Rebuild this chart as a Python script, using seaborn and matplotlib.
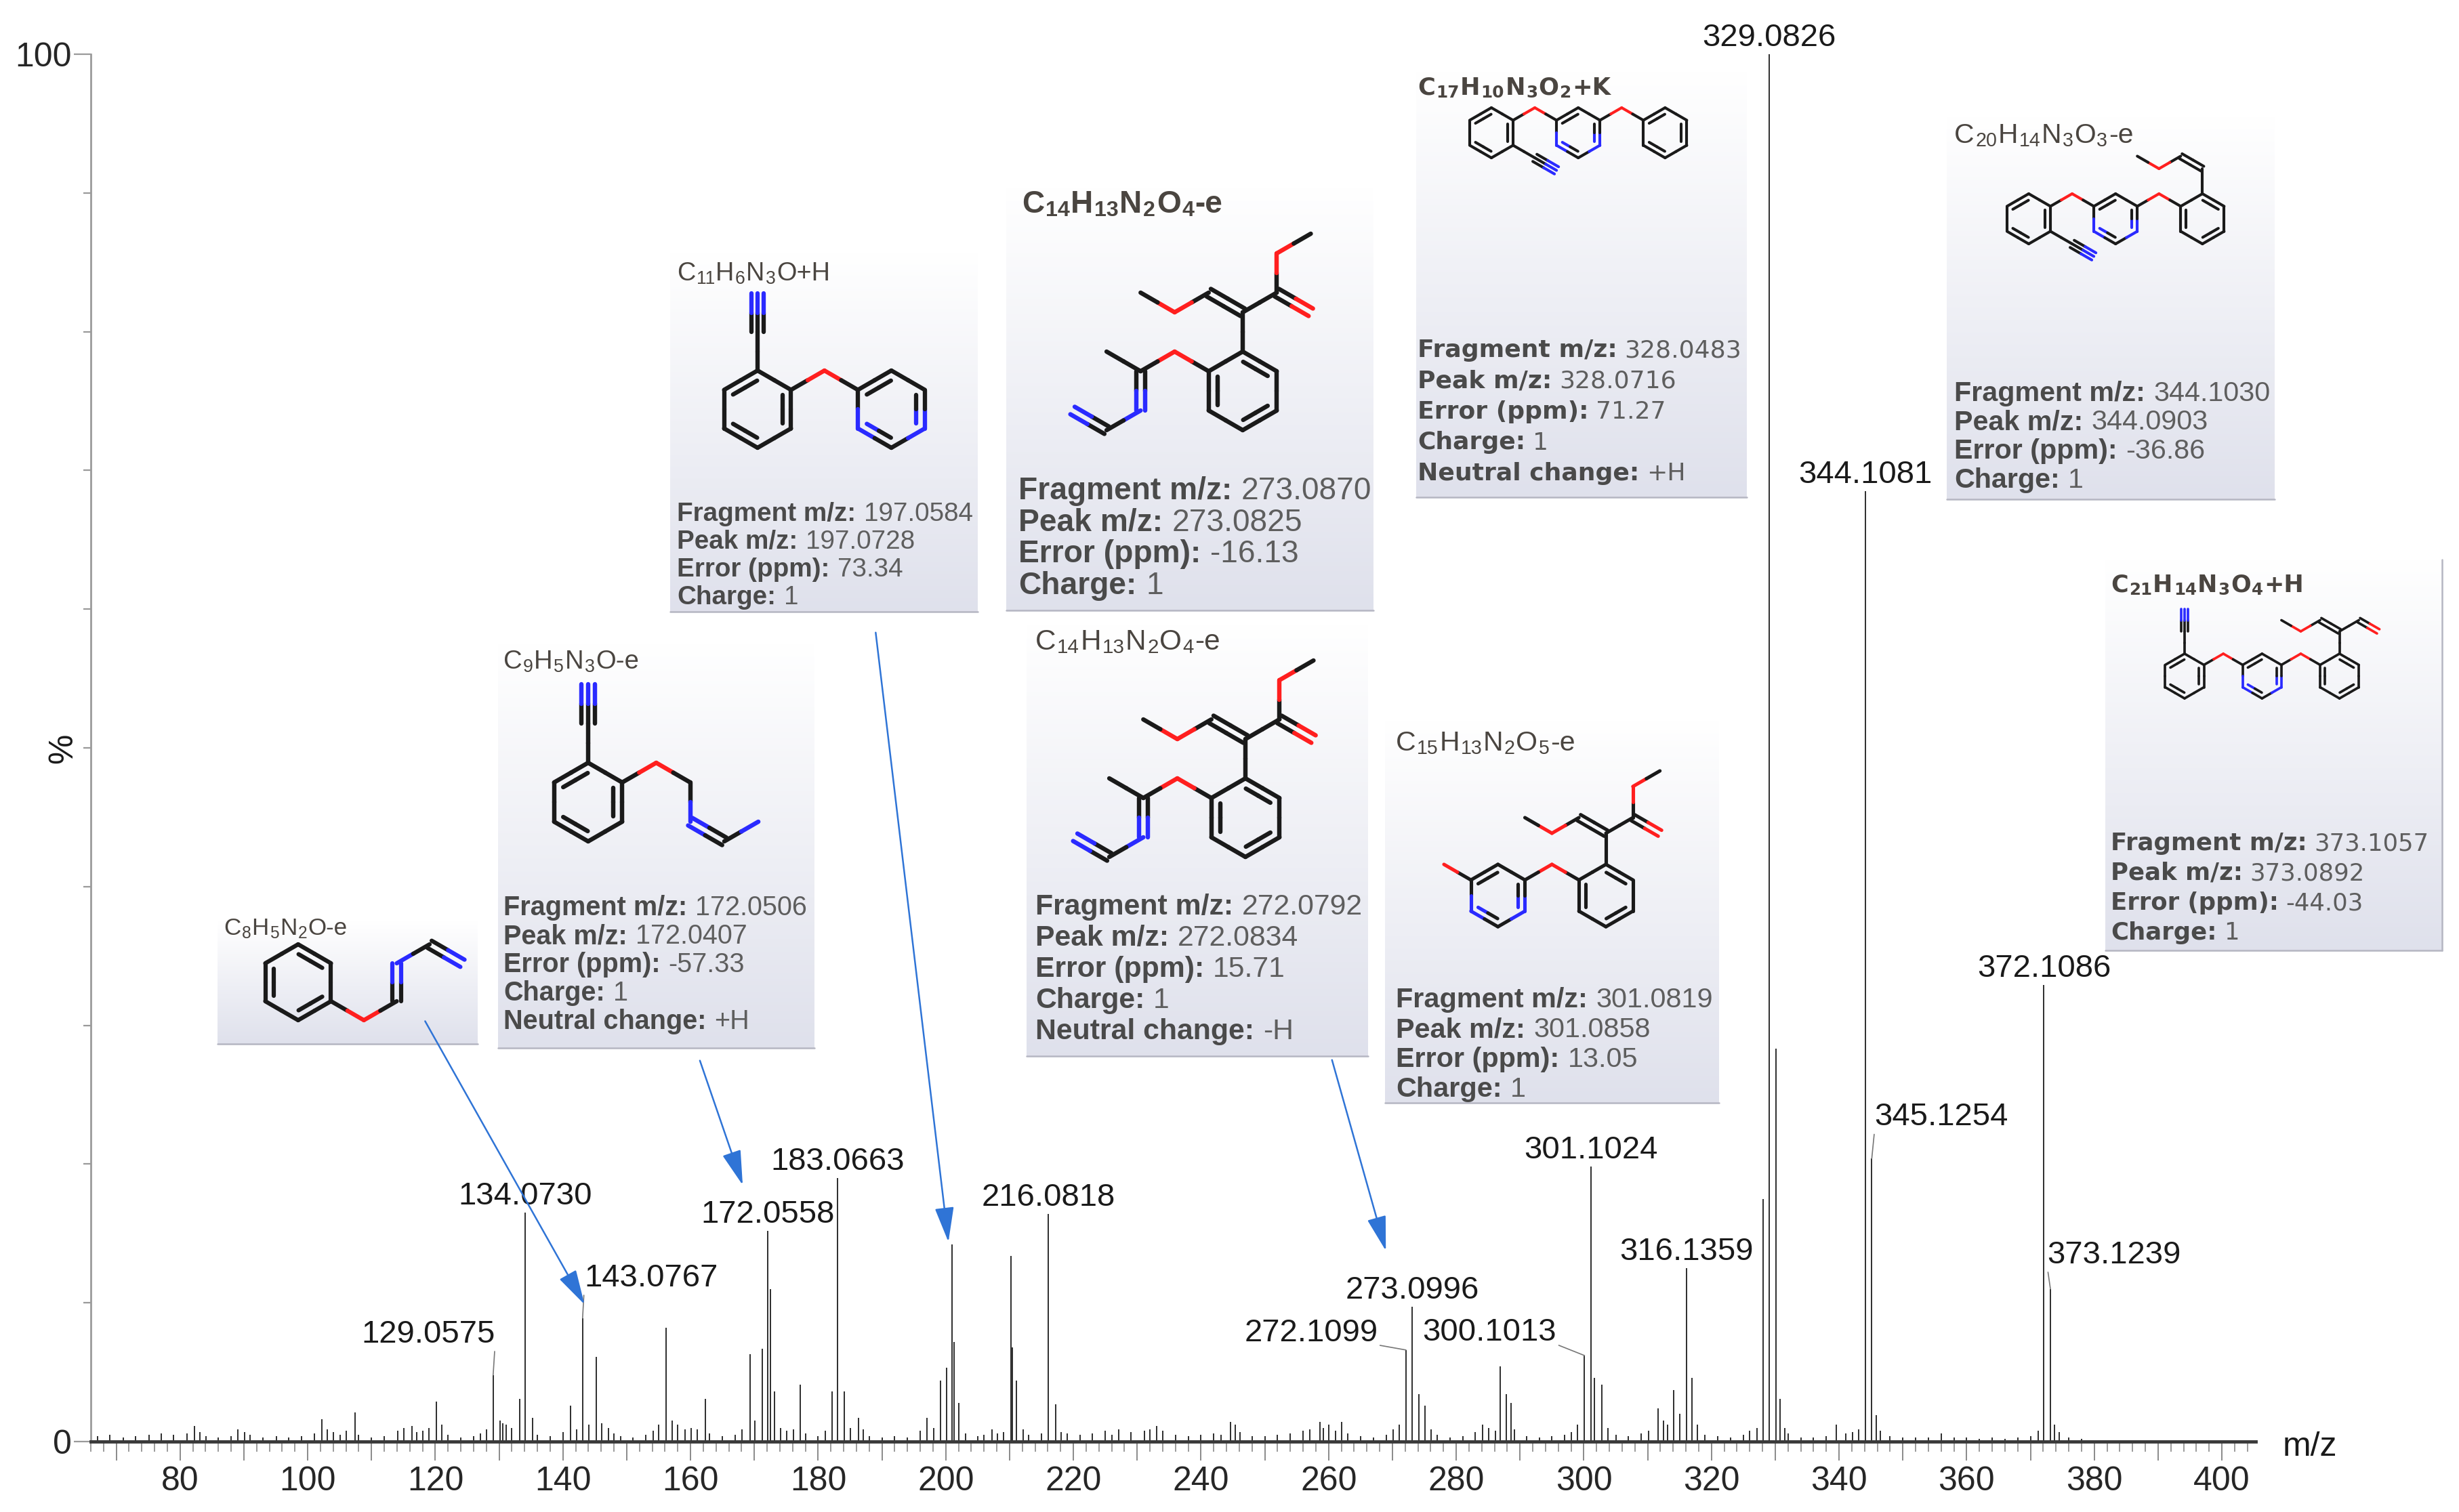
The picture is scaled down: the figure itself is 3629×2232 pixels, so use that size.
import re
import numpy as np
import matplotlib
matplotlib.use("Agg")
import matplotlib.pyplot as plt
from matplotlib import font_manager
from matplotlib.patches import FancyArrowPatch
from matplotlib.ticker import MultipleLocator, FuncFormatter
import seaborn as sns

# labelled peaks (m/z, relative intensity %)
peak_mz = [129.0575, 134.0730, 143.0767, 172.0558, 183.0663, 216.0818, 272.1099, 273.0996,
           300.1013, 301.1024, 316.1359, 329.0826, 344.1081, 345.1254, 372.1086, 373.1239]
peak_int = [4.8, 16.5, 8.9, 15.2, 19.0, 16.4, 6.6, 9.7,
            6.2, 19.8, 12.5, 100.0, 68.5, 20.4, 32.9, 11.0]

# unlabelled peaks and baseline noise
other_mz = [67.1, 69.0, 71.1, 73.0, 75.1, 77.0, 79.0, 81.1, 82.3, 83.1, 84.1, 86.0, 88.0, 89.0,
            90.1, 91.0, 93.0, 95.1, 97.0, 99.0, 101.0, 102.2, 103.1, 104.0, 105.1, 106.0, 107.4,
            108.0, 110.0, 112.0, 114.1, 115.1, 116.3, 117.1, 118.0, 119.0, 120.2, 121.0, 122.0,
            124.0, 126.0, 127.1, 128.0, 130.1, 130.6, 131.1, 132.0, 133.2, 135.2, 136.0, 138.0,
            140.0, 141.2, 142.1, 144.1, 145.2, 146.1, 147.1, 148.0, 149.0, 151.0, 153.0, 154.1,
            155.0, 156.2, 157.1, 158.0, 159.1, 160.1, 161.0, 162.3, 163.0, 165.0, 167.0, 168.1,
            169.3, 170.1, 171.2, 172.5, 173.1, 174.1, 175.1, 176.1, 177.2, 178.0, 180.0, 181.1,
            182.2, 184.1, 185.1, 186.3, 187.1, 188.0, 190.0, 192.0, 194.0, 196.0, 197.1, 198.1,
            199.2, 200.1, 201.0, 201.3, 202.0, 203.1, 205.0, 206.0, 207.2, 208.1, 209.1, 210.2,
            210.4, 211.1, 212.1, 213.0, 215.0, 217.2, 218.1, 219.0, 221.0, 223.0, 225.0, 226.0,
            227.1, 229.0, 231.1, 232.0, 233.1, 234.0, 236.0, 238.0, 240.0, 242.0, 243.1, 244.6,
            245.4, 246.1, 248.0, 250.0, 252.0, 254.0, 256.0, 257.1, 258.6, 259.2, 260.0, 261.1,
            262.0, 263.0, 265.0, 267.0, 269.0, 270.1, 271.1, 274.1, 275.1, 276.1, 277.0, 279.0,
            281.0, 283.0, 284.1, 285.1, 286.1, 286.9, 287.8, 288.6, 289.1, 291.0, 293.0, 295.0,
            297.0, 298.0, 299.0, 301.7, 302.8, 303.8, 305.0, 307.0, 309.0, 310.1, 311.6, 312.5,
            313.1, 314.1, 315.0, 316.9, 317.8, 319.0, 321.0, 323.0, 325.0, 326.0, 327.1, 328.07,
            330.08, 330.8, 331.5, 332.0, 334.0, 336.0, 338.0, 339.6, 341.0, 342.1, 343.1, 345.8,
            346.5, 348.0, 350.0, 352.0, 354.0, 356.0, 358.0, 360.0, 362.0, 364.0, 366.0, 368.0,
            370.0, 371.2, 373.8, 374.5, 376.0, 378.0]
other_int = [0.4, 0.5, 0.3, 0.4, 0.5, 0.6, 0.5, 0.6, 1.1, 0.7, 0.4, 0.3, 0.4, 0.9,
             0.7, 0.5, 0.3, 0.4, 0.3, 0.4, 0.6, 1.6, 0.9, 0.7, 0.5, 0.8, 2.1,
             0.5, 0.3, 0.4, 0.8, 1.0, 1.1, 0.7, 0.8, 1.0, 2.9, 1.2, 0.5,
             0.3, 0.4, 0.6, 0.9, 1.5, 1.3, 1.2, 1.0, 3.1, 1.7, 0.5, 0.4,
             0.7, 2.6, 0.9, 1.2, 6.1, 1.3, 1.0, 0.6, 0.4, 0.3, 0.5, 0.8,
             1.2, 8.2, 1.5, 1.2, 0.9, 1.0, 0.9, 3.1, 0.6, 0.4, 0.5, 0.9,
             6.3, 1.5, 6.7, 11.0, 3.6, 1.0, 0.8, 0.9, 4.1, 0.6, 0.4, 0.8,
             3.6, 3.6, 1.0, 1.7, 0.9, 0.4, 0.3, 0.4, 0.3, 0.8, 1.7, 1.0,
             4.4, 5.3, 14.2, 7.2, 2.8, 0.6, 0.4, 0.5, 0.9, 0.6, 0.7, 13.4,
             6.8, 4.4, 0.9, 0.5, 0.6, 2.7, 0.7, 0.6, 0.5, 0.6, 0.8, 0.5,
             0.9, 0.7, 0.8, 0.9, 1.1, 0.8, 0.5, 0.4, 0.5, 0.6, 0.5, 1.4,
             1.2, 0.7, 0.4, 0.4, 0.5, 0.6, 0.8, 0.9, 1.4, 1.0, 1.2, 0.8,
             1.4, 0.6, 0.4, 0.3, 0.5, 0.9, 1.2, 3.4, 2.6, 0.9, 0.5, 0.3,
             0.4, 0.7, 1.2, 1.0, 0.8, 5.4, 3.4, 2.8, 0.9, 0.4, 0.3, 0.4,
             0.5, 0.7, 1.2, 4.6, 4.1, 1.0, 0.5, 0.4, 0.6, 0.8, 2.4, 1.5,
             1.2, 3.7, 2.0, 4.6, 1.2, 0.5, 0.4, 0.3, 0.5, 0.8, 1.0, 17.5,
             28.3, 3.1, 1.0, 0.6, 0.3, 0.3, 0.4, 1.2, 0.6, 0.7, 0.9, 1.9,
             0.8, 0.4, 0.3, 0.3, 0.3, 0.6, 0.3, 0.3, 0.2, 0.3, 0.2, 0.3,
             0.4, 0.8, 1.2, 0.7, 0.3, 0.2]

# fragment annotation panels
formulas = ["C8H5N2O-e", "C9H5N3O-e", "C11H6N3O+H", "C14H13N2O4-e", "C14H13N2O4-e",
            "C15H13N2O5-e", "C17H10N3O2+K", "C20H14N3O3-e", "C21H14N3O4+H"]
frag_mz = [None, "172.0506", "197.0584", "273.0870", "272.0792", "301.0819", "328.0483", "344.1030", "373.1057"]
peak_found = [None, "172.0407", "197.0728", "273.0825", "272.0834", "301.0858", "328.0716", "344.0903", "373.0892"]
err_ppm = [None, "-57.33", "73.34", "-16.13", "15.71", "13.05", "71.27", "-36.86", "-44.03"]
charge = [None, "1", "1", "1", "1", "1", "1", "1", "1"]
neutral = [None, "+H", None, None, "-H", None, "+H", None, None]

W, H = 3630, 2232

sns.set_theme(style="ticks")
avail = {f.name for f in font_manager.fontManager.ttflist}
NARROW = "Liberation Sans Narrow" if "Liberation Sans Narrow" in avail else "Liberation Sans"
plt.rcParams["font.family"] = ["Liberation Sans", "DejaVu Sans"]

fig = plt.figure(figsize=(W / 100, H / 100), dpi=100)
ax = fig.add_axes([134 / W, 1 - 2128 / H, (3329 - 134) / W, (2128 - 80) / H])

ax.vlines(other_mz, 0, other_int, color="#1c1c1c", lw=1.3)
ax.vlines(peak_mz, 0, peak_int, color="#1c1c1c", lw=1.3)

ax.set_xlim(66, 405.3)
ax.set_ylim(0, 100)
sns.despine(ax=ax)
ax.spines["left"].set_color("#9a9a9a")
ax.spines["left"].set_linewidth(2)
ax.spines["bottom"].set_color("#3a3a3a")
ax.spines["bottom"].set_linewidth(3.5)

ax.xaxis.set_major_locator(MultipleLocator(10))
ax.xaxis.set_minor_locator(MultipleLocator(2))
ax.xaxis.set_major_formatter(FuncFormatter(lambda v, p: f"{int(round(v))}" if int(round(v)) % 20 == 0 else ""))
ax.set_yticks([0, 100])
ax.set_yticklabels(["0", "100"])
ax.yaxis.set_minor_locator(MultipleLocator(10))
ax.tick_params(axis="x", which="major", length=20, width=1.4, color="#8a8a8a", labelsize=36, pad=6, bottom=True)
ax.tick_params(axis="x", which="minor", length=11, width=1.2, color="#8a8a8a", bottom=True)
ax.tick_params(axis="y", which="major", length=18, width=1.6, color="#9a9a9a", labelsize=36, pad=2, left=True)
ax.tick_params(axis="y", which="minor", length=8, width=1.6, color="#9a9a9a", left=True)
ax.grid(False)

# label offsets (pixels) for labels that sit beside their peak with a leader
leader = {129.0575: (-96, 60), 143.0767: (101, 59), 272.1099: (-140, 25),
          300.1013: (-140, 34), 345.1254: (103, 61), 373.1239: (94, 50)}

for mz, inten in zip(peak_mz, peak_int):
    txt = f"{mz:.4f}"
    if mz in leader:
        dx, dy = leader[mz]
        ax.annotate(txt, (mz, inten), xytext=(dx, dy), textcoords="offset pixels",
                    ha="center", va="center", fontsize=34, color="#1a1a1a", annotation_clip=False,
                    arrowprops=dict(arrowstyle="-", color="#777777", lw=1.2, shrinkA=0, shrinkB=0,
                                    relpos=(1, 0.1) if dx < 0 else (0, 0.1)))
    else:
        ax.annotate(txt, (mz, inten), xytext=(0, 12), textcoords="offset pixels",
                    ha="center", va="baseline", fontsize=34, color="#1a1a1a", annotation_clip=False)

# overlay in picture pixels (origin top-left) for panels, structures and arrows
ov = fig.add_axes([0, 0, 1, 1])
ov.patch.set_alpha(0)
ov.axis("off")
R = fig.canvas.get_renderer()

ATOM = {"C": "#1a1a1a", "O": "#ff1f1f", "N": "#2a2aff"}


def dirv(a):
    r = np.radians(a)
    return np.cos(r), -np.sin(r)


class Mol:
    def __init__(self, x, y, L):
        self.xy = [(x, y)]
        self.el = ["C"]
        self.bonds = []
        self.L = L

    def add(self, i, ang, el="C", order=1):
        dx, dy = dirv(ang)
        x, y = self.xy[i]
        self.xy.append((x + self.L * dx, y + self.L * dy))
        self.el.append(el)
        j = len(self.xy) - 1
        self.bonds.append((i, j, order, None))
        return j

    def ring(self, i, cdir, els="CCCCCC", dbl=()):
        x, y = self.xy[i]
        dx, dy = dirv(cdir)
        cx, cy = x + self.L * dx, y + self.L * dy
        idx = [i]
        for k in range(1, 6):
            ex, ey = dirv(cdir + 180 + 60 * k)
            self.xy.append((cx + self.L * ex, cy + self.L * ey))
            self.el.append(els[k])
            idx.append(len(self.xy) - 1)
        for k in range(6):
            self.bonds.append((idx[k], idx[(k + 1) % 6], 2 if k in dbl else 1, (cx, cy)))
        return idx


def from_center(cx, cy, L, ang):
    dx, dy = dirv(ang)
    return cx + L * dx, cy + L * dy


def half(p, q, ca, cb, lw):
    m = (p + q) / 2
    ov.plot([p[0], m[0]], [p[1], m[1]], color=ca, lw=lw, solid_capstyle="round", zorder=3)
    ov.plot([m[0], q[0]], [m[1], q[1]], color=cb, lw=lw, solid_capstyle="round", zorder=3)


def draw_mol(m):
    lw = 0.08 * m.L
    d = 0.22 * m.L
    for a, b, order, cen in m.bonds:
        p = np.array(m.xy[a])
        q = np.array(m.xy[b])
        ca, cb = ATOM[m.el[a]], ATOM[m.el[b]]
        v = q - p
        n = np.array([-v[1], v[0]]) / np.hypot(*v)
        if order == 1:
            half(p, q, ca, cb, lw)
        elif order == 2 and cen is not None:
            half(p, q, ca, cb, lw)
            if np.dot(np.array(cen) - (p + q) / 2, n) < 0:
                n = -n
            half(p + n * d + v * 0.14, q + n * d - v * 0.14, ca, cb, lw)
        elif order == 2:
            half(p + n * d / 2, q + n * d / 2, ca, cb, lw)
            half(p - n * d / 2, q - n * d / 2, ca, cb, lw)
        else:
            for s in (-0.75, 0, 0.75):
                half(p + n * d * s, q + n * d * s, ca, cb, lw)


def ester_chain(m, top):
    ca = m.add(top, 90)
    cb = m.add(ca, 150, "C", 2)
    o1 = m.add(cb, 210, "O")
    m.add(o1, 150)
    cc = m.add(ca, 30)
    m.add(cc, -30, "O", 2)
    o3 = m.add(cc, 90, "O")
    m.add(o3, 30)


def mol_imine(cx, cy, L):
    m = Mol(*from_center(cx, cy, L, 90), L)
    r = m.ring(0, -90, dbl={5, 1, 3})
    ester_chain(m, r[0])
    o = m.add(r[1], 150, "O")
    c = m.add(o, 210)
    m.add(c, 150)
    n = m.add(c, 270, "N", 2)
    c2 = m.add(n, 210)
    m.add(c2, 150, "N", 2)
    return m


def mol_tri(cx, cy, L, nitrile, tail):
    # nitrile-phenyl - O - pyrimidine - O - phenyl
    m = Mol(*from_center(cx, cy, L, 30), L)
    r1 = m.ring(0, 210, dbl={1, 3, 5})
    if nitrile == "low":
        c = m.add(r1[5], -30)
        m.add(c, -30, "N", 3)
    else:
        c = m.add(r1[1], 90)
        m.add(c, 90, "N", 3)
    o = m.add(r1[0], 30, "O")
    a = m.add(o, -30)
    r2 = m.ring(a, -30, els="CNCNCC", dbl={5, 1, 3})
    o2 = m.add(r2[4], 30, "O")
    b = m.add(o2, -30)
    if tail is None:
        m.ring(b, -30, dbl={5, 1, 3})
        return m
    r3 = m.ring(b, -30, dbl={0, 2, 4})
    ca = m.add(r3[5], 90)
    cb = m.add(ca, 150, "C", 2)
    o3 = m.add(cb, 210, "O")
    m.add(o3, 150)
    if tail == "aldehyde":
        cc = m.add(ca, 30)
        m.add(cc, -30, "O", 2)
    return m


mols = []
# panel 1
m = Mol(*from_center(440, 1450, 56, -30), 56)
r = m.ring(0, 150, dbl={1, 3, 5})
o = m.add(0, -30, "O")
c1 = m.add(o, 30)
n1 = m.add(c1, 90, "N", 2)
c2 = m.add(n1, 30)
m.add(c2, -30, "N", 2)
mols.append(m)
# panel 2
m = Mol(*from_center(868, 1184, 58, 90), 58)
r = m.ring(0, -90, dbl={0, 2, 4})
c = m.add(r[0], 90)
m.add(c, 90, "N", 3)
o = m.add(r[5], 30, "O")
c = m.add(o, -30)
n = m.add(c, -90, "N")
c2 = m.add(n, -30, "C", 2)
m.add(c2, 30, "N")
mols.append(m)
# panel 3
m = Mol(*from_center(1118, 604, 57, 90), 57)
r = m.ring(0, -90, dbl={0, 2, 4})
c = m.add(r[0], 90)
m.add(c, 90, "N", 3)
o = m.add(r[5], 30, "O")
a = m.add(o, -30)
m.ring(a, -30, els="CNCNCC", dbl={5, 1, 3})
mols.append(m)
# panels 4, 5
mols.append(mol_imine(1834, 577, 58))
mols.append(mol_imine(1838, 1207, 58))
# panel 6
m = Mol(*from_center(2370, 1322, 46, 90), 46)
r = m.ring(0, -90, dbl={5, 1, 3})
ester_chain(m, r[0])
o = m.add(r[1], 150, "O")
a = m.add(o, 210)
r2 = m.ring(a, 210, els="CCCNCN", dbl={1, 3, 5})
m.add(r2[2], 150, "O")
mols.append(m)
# panels 7, 8, 9
mols.append(mol_tri(2201, 196, 37, "low", None))
mols.append(mol_tri(2994, 323, 37, "low", "vinyl"))
mols.append(mol_tri(3224, 998, 33, "up", "aldehyde"))

# panel geometry: box, formula (x, y, width), info (x, y, step, width), font, bold formula
panels = [
    dict(box=(321, 1360, 705, 1541), f=(330, 1371, 175), info=None, fam=NARROW, fb=False),
    dict(box=(735, 949, 1202, 1547), f=(743, 977, 191), info=(743, 1340, 42, 447), fam=NARROW, fb=False),
    dict(box=(989, 372, 1443, 903), f=(999, 404, 218), info=(999, 759, 41, 437), fam=NARROW, fb=False),
    dict(box=(1485, 275, 2027, 901), f=(1508, 302, 284), info=(1503, 725, 46.7, 521), fam=NARROW, fb=True),
    dict(box=(1515, 920, 2019, 1559), f=(1528, 948, 261), info=(1528, 1339, 46, 482), fam=NARROW, fb=False),
    dict(box=(2044, 1063, 2537, 1628), f=(2060, 1097, 253), info=(2060, 1476, 44, 468), fam=NARROW, fb=False),
    dict(box=(2090, 105, 2578, 734), f=(2092, 130, 275), info=(2092, 517, 45.5, 477), fam="DejaVu Sans", fb=True),
    dict(box=(2873, 171, 3357, 737), f=(2884, 200, 253), info=(2884, 581, 42.5, 466), fam=NARROW, fb=False),
    dict(box=(3107, 826, 3604, 1403), f=(3115, 864, 275), info=(3115, 1245, 44, 470), fam="DejaVu Sans", fb=True),
]

grad = np.linspace(np.array([1.0, 1.0, 1.0]), np.array([0.875, 0.882, 0.925]), 200)[:, None, :]


def text_w(s, size, family, weight):
    t = ov.text(0, 0, s, fontsize=size, family=family, weight=weight)
    w = t.get_window_extent(R).width
    t.remove()
    return w


def draw_formula(x, y, s, width, family, weight):
    parts = re.findall(r"\d+|[^\d]+", s)

    def total(size):
        return sum(text_w(p, size * (0.7 if p.isdigit() else 1), family, weight) for p in parts)

    size = 20 * width / total(20)
    cx = x
    for p in parts:
        sub = p.isdigit()
        sz = size * (0.7 if sub else 1)
        yy = y + size * 100 / 72 * 0.2 if sub else y
        t = ov.text(cx, yy, p, fontsize=sz, family=family, weight=weight, color="#4a4540",
                    va="center", ha="left", zorder=4)
        cx += t.get_window_extent(R).width + size * 0.05


def draw_info(x, y, step, width, rows, family):
    lab0, val0 = rows[0]
    w0 = text_w(lab0, 20, family, "bold") + 20 * 100 / 72 * 0.3 + text_w(val0, 20, family, "normal")
    size = 20 * width / w0
    for k, (lab, val) in enumerate(rows):
        yy = y + k * step
        t = ov.text(x, yy, lab, fontsize=size, family=family, weight="bold", color="#4a4a4a",
                    va="center", ha="left", zorder=4)
        w = t.get_window_extent(R).width
        ov.text(x + w + size * 100 / 72 * 0.3, yy, val, fontsize=size, family=family, color="#5e5e5e",
                va="center", ha="left", zorder=4)


for k, pn in enumerate(panels):
    x0, y0, x1, y1 = pn["box"]
    ov.imshow(grad, extent=(x0, x1, y1, y0), aspect="auto", interpolation="bilinear", zorder=1)
    ov.plot([x0, x1], [y1, y1], color="#b5b6c2", lw=1.8, zorder=2)
    if k == 8:
        ov.plot([x1, x1], [y0, y1], color="#b5b6c2", lw=1.8, zorder=2)
    fx, fy, fw = pn["f"]
    draw_formula(fx, fy, formulas[k], fw, pn["fam"], "bold" if pn["fb"] else "normal")
    if pn["info"] is not None:
        rows = [("Fragment m/z:", frag_mz[k]), ("Peak m/z:", peak_found[k]),
                ("Error (ppm):", err_ppm[k]), ("Charge:", charge[k])]
        if neutral[k]:
            rows.append(("Neutral change:", neutral[k]))
        ix, iy, st, iw = pn["info"]
        draw_info(ix, iy, st, iw, rows, pn["fam"])

for m in mols:
    draw_mol(m)

# blue arrows from panels to the matching peaks
arrows = [((626, 1505), (864, 1928)), ((1032, 1563), (1097, 1752)),
          ((1292, 931), (1400, 1836)), ((1965, 1562), (2046, 1849))]
for a, b in arrows:
    ov.add_patch(FancyArrowPatch(a, b, arrowstyle="-|>,head_length=0.8,head_width=0.22",
                                 mutation_scale=40, lw=1.8, color="#2f74d6", zorder=5))

ov.text(93, 1105, "%", rotation=90, fontsize=36, ha="center", va="center", color="#1a1a1a")
ov.text(3409, 2136, "m/z", fontsize=36, ha="center", va="center", color="#1a1a1a")

ov.set_xlim(0, W)
ov.set_ylim(H, 0)

fig.savefig("out.png", dpi=100, facecolor="white")
